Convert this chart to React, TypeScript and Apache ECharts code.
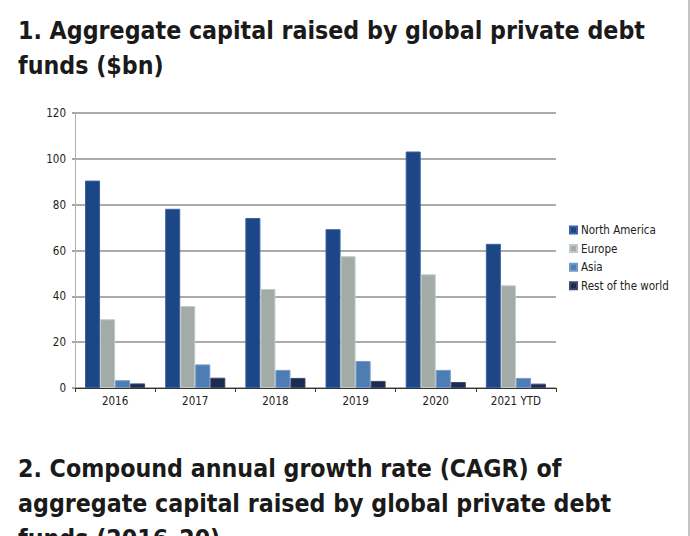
import React, { useEffect, useRef } from "react";
import * as echarts from "echarts";

const years = ["2016", "2017", "2018", "2019", "2020", "2021 YTD"];
const northAmerica = [90.5, 78.2, 74.2, 69.3, 103.2, 62.9];
const europe = [30.0, 35.8, 43.2, 57.5, 49.6, 44.8];
const asia = [3.4, 10.3, 7.9, 11.8, 7.9, 4.4];
const restOfWorld = [2.0, 4.5, 4.4, 3.1, 2.6, 1.9];
const yTicks = { min: 0, max: 120, interval: 20 };

const titleTop = "1. Aggregate capital raised by global private debt\nfunds ($bn)";
const titleBottom =
  "2. Compound annual growth rate (CAGR) of\naggregate capital raised by global private debt\nfunds (2016–20)";

const narrow = '"DejaVu Sans Condensed", "Liberation Sans Narrow", sans-serif';
const headFont = '"DejaVu Sans Condensed", "Liberation Sans Narrow", sans-serif';

export default function App() {
  const ref = useRef<HTMLDivElement>(null);

  useEffect(() => {
    if (!ref.current) return;
    const chart = echarts.init(ref.current, null, { renderer: "svg" });

    const mk = (name: string, data: number[], color: string, edge: string) => ({
      name,
      type: "bar",
      data,
      barGap: "0%",
      barCategoryGap: "25%",
      itemStyle: { color, borderColor: edge, borderWidth: 1 },
    });

    chart.setOption({
      animation: false,
      backgroundColor: "#ffffff",
      grid: { left: 75, right: 134, top: 113, bottom: 148 },
      legend: {
        orient: "vertical",
        left: 564,
        top: 219,
        icon: "rect",
        itemWidth: 7,
        itemHeight: 7,
        itemGap: 6.6,
        textStyle: { fontFamily: narrow, fontSize: 11.5, color: "#222", padding: [0, 0, 0, -1] },
        data: ["North America", "Europe", "Asia", "Rest of the world"],
      },
      xAxis: {
        type: "category",
        data: years,
        axisLine: { lineStyle: { color: "#333", width: 1 } },
        axisTick: { show: true, length: 4, lineStyle: { color: "#333" } },
        axisLabel: {
          fontFamily: narrow,
          fontSize: 11.5,
          color: "#222",
          margin: 7,
        },
      },
      yAxis: {
        type: "value",
        min: yTicks.min,
        max: yTicks.max,
        interval: yTicks.interval,
        axisLine: { show: true, lineStyle: { color: "#b0b0b0", width: 1 } },
        axisTick: { show: true, length: 3, lineStyle: { color: "#8a8a8a", width: 1.5 } },
        axisLabel: { fontFamily: narrow, fontSize: 11.5, color: "#222", margin: 9 },
        splitLine: { lineStyle: { color: "#8f8f8f", width: 1.5 } },
      },
      series: [
        mk("North America", northAmerica, "#1d4686", "#3a62a3"),
        mk("Europe", europe, "#a3aba7", "#c3cac6"),
        mk("Asia", asia, "#4e7db4", "#7299c8"),
        mk("Rest of the world", restOfWorld, "#1c2b50", "#3a4a70"),
      ],
      graphic: [
        {
          type: "text",
          x: 18,
          y: 13,
          style: {
            text: titleTop,
            font: `bold 24.7px ${headFont}`,
            lineHeight: 35,
            fill: "#1a1a1a",
          },
        },
        {
          type: "text",
          x: 18,
          y: 451,
          style: {
            text: titleBottom,
            font: `bold 24.7px ${headFont}`,
            lineHeight: 35,
            fill: "#1a1a1a",
          },
        },
        {
          type: "line",
          shape: { x1: 689, y1: 0, x2: 689, y2: 536 },
          style: { stroke: "#c4c4c4", lineWidth: 2 },
        },
      ],
    });

    return () => chart.dispose();
  }, []);

  return (
    <div
      ref={ref}
      style={{ position: "fixed", left: 0, top: 0, width: 690, height: 536 }}
    />
  );
}
